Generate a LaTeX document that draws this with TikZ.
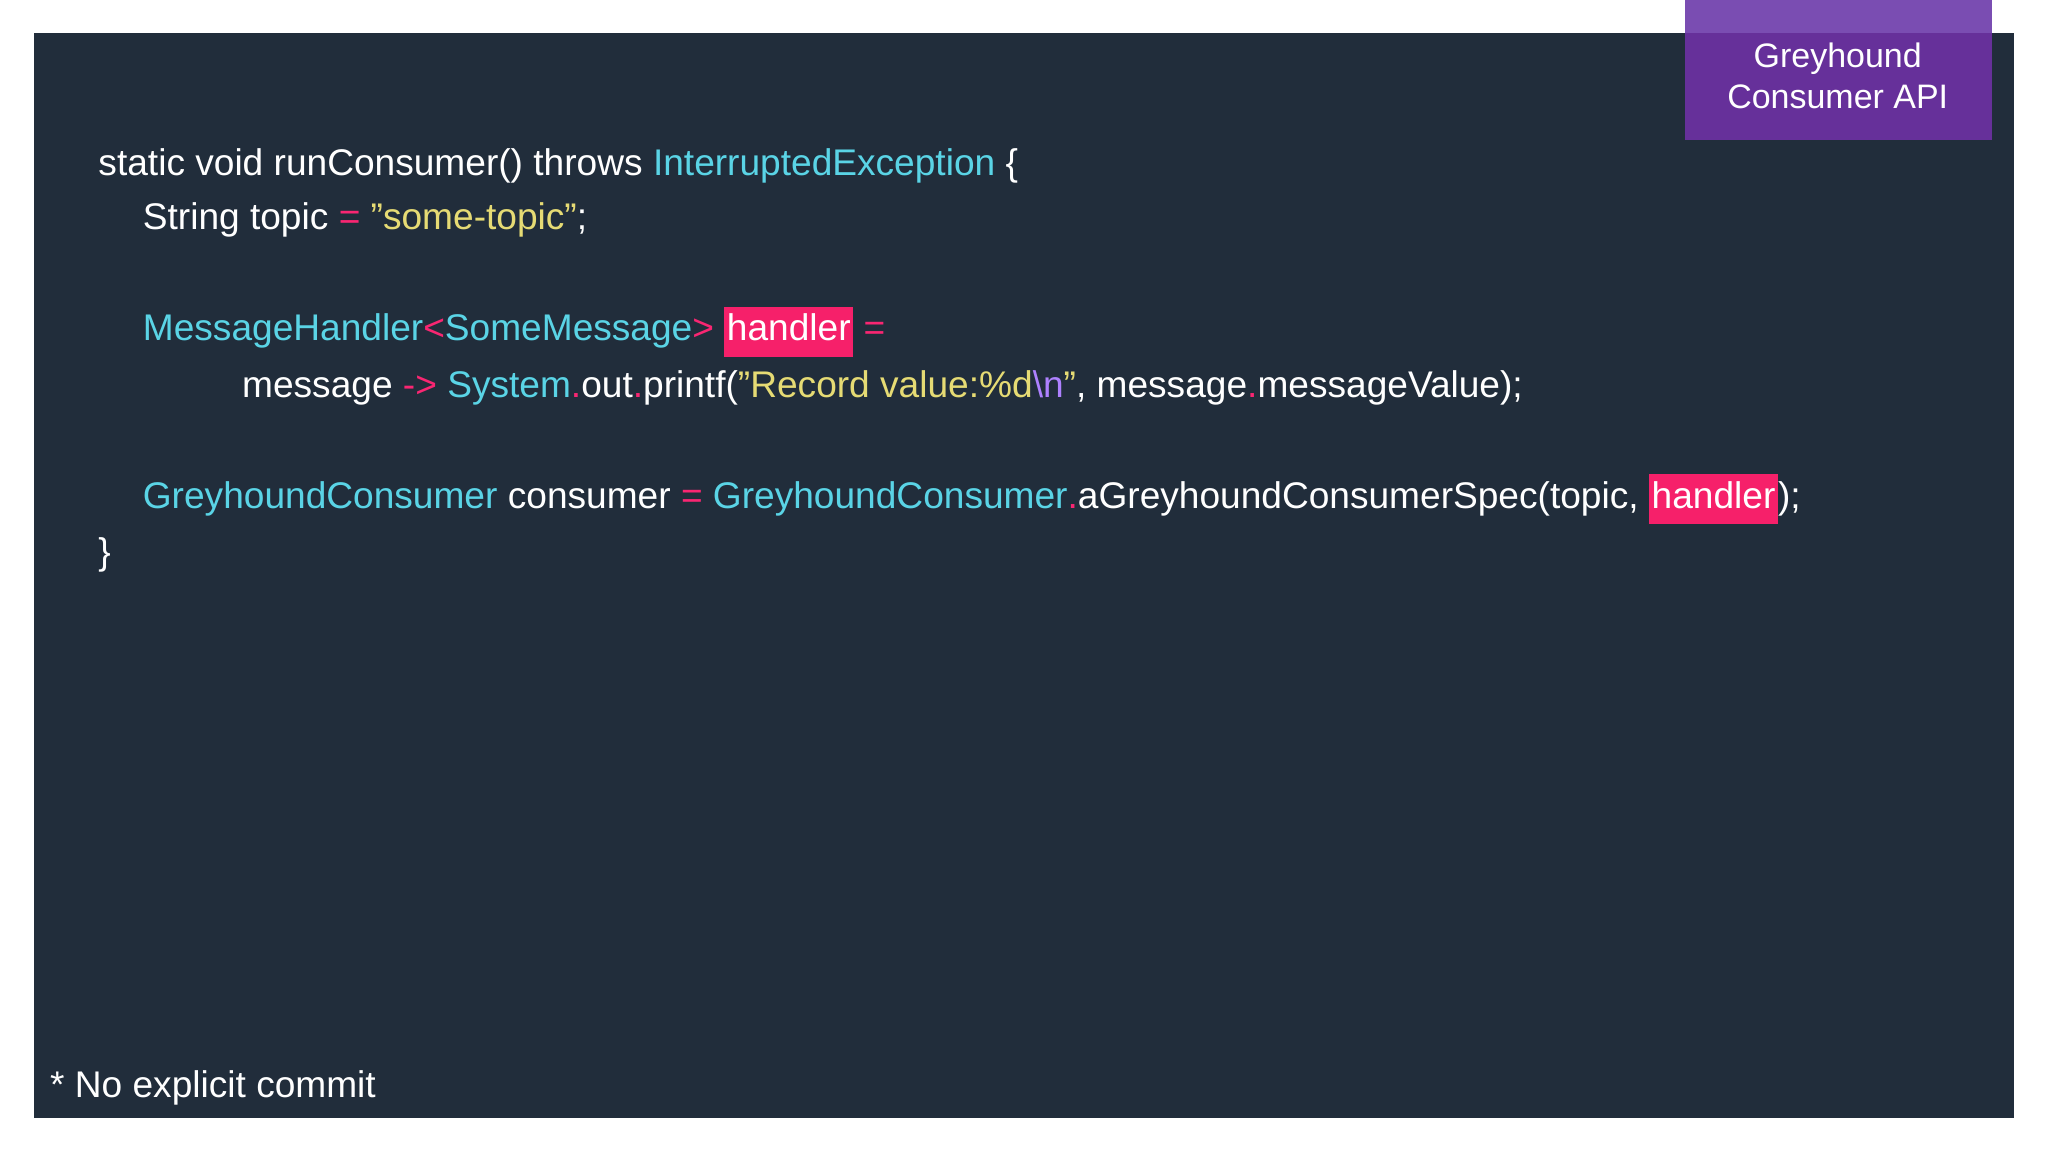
\documentclass[tikz,border=0pt]{standalone}
\usepackage{fontspec}
\setmainfont{Liberation Sans}
\usepackage{xcolor}
\definecolor{bg}{HTML}{212D3B}
\definecolor{cy}{HTML}{5AD4E6}
\definecolor{pk}{HTML}{F92672}
\definecolor{yl}{HTML}{E6DB74}
\definecolor{pu}{HTML}{AE81FF}
\definecolor{hl}{HTML}{F6206A}
\definecolor{boxp}{HTML}{66309A}
\definecolor{boxt}{HTML}{7A4DB2}
\newcommand{\hlw}[1]{{\setlength{\fboxsep}{1pt}\colorbox{hl}{\strut #1}}}
\begin{document}
\begin{tikzpicture}[x=0.5pt,y=-0.5pt,
  code/.style={anchor=base west,inner sep=0,text=white,font=\fontsize{14.2}{17}\selectfont}]
\useasboundingbox (0,0) rectangle (1568,882);
\fill[white] (0,0) rectangle (1568,882);
\fill[bg] (26,25) rectangle (1542,856);
\fill[boxp] (1290,0) rectangle (1525,107);
\fill[boxt] (1290,0) rectangle (1525,25);
\node[text=white,align=center,font=\fontsize{13}{15.5}\selectfont] (title) at (1407,58) {Greyhound\\Consumer API};
\node[code] (l1) at (75,134) {static void runConsumer() throws \textcolor{cy}{InterruptedException} \{};
\node[code] (l2) at (109,176) {String topic \textcolor{pk}{=} \textcolor{yl}{"some-topic"};};
\node[code] (l4) at (109,261) {\textcolor{cy}{MessageHandler}\textcolor{pk}{<}\textcolor{cy}{SomeMessage}\textcolor{pk}{>} \hlw{handler} \textcolor{pk}{=}};
\node[code] (l5) at (185,304) {message \textcolor{pk}{->} \textcolor{cy}{System}\textcolor{pk}{.}out\textcolor{pk}{.}printf(\textcolor{yl}{"Record value:\%d}\textcolor{pu}{\textbackslash n}\textcolor{yl}{"}, message\textcolor{pk}{.}messageValue);};
\node[code] (l7) at (109,389) {\textcolor{cy}{GreyhoundConsumer} consumer \textcolor{pk}{=} \textcolor{cy}{GreyhoundConsumer}\textcolor{pk}{.}aGreyhoundConsumerSpec(topic, \hlw{handler});};
\node[code] (l8) at (75,432) {\}};
\node[code] (foot) at (38,840) {* No explicit commit};
\end{tikzpicture}
\end{document}
